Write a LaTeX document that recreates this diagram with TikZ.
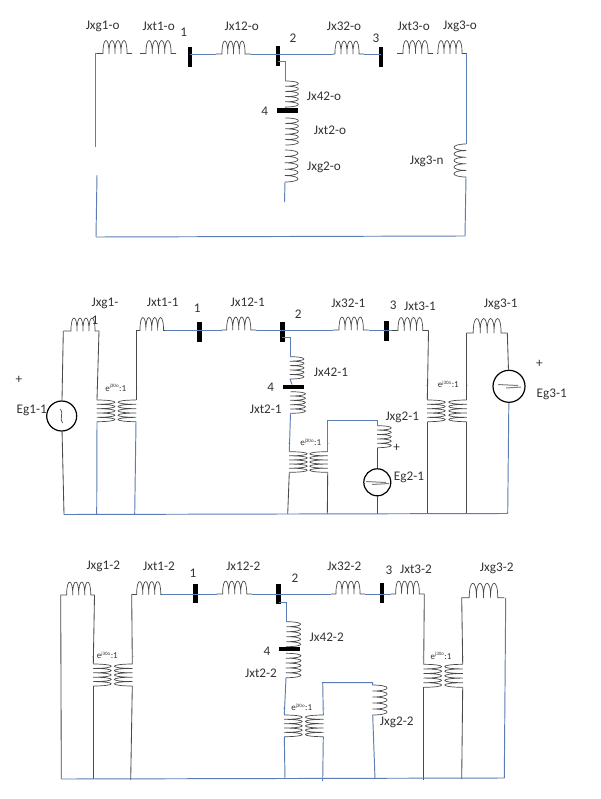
\documentclass[tikz,border=0pt]{standalone}
\usepackage{fontspec}
\setmainfont{Carlito}
\usetikzlibrary{calc}
\definecolor{wiredark}{HTML}{4A4A4A}
\definecolor{wireblue}{HTML}{5A7DB5}
\definecolor{inktext}{HTML}{333333}
\tikzset{
  coilst/.style={draw=wiredark,line width=0.7pt,line join=round},
  wire/.style={draw=wiredark,line width=0.85pt},
  bwire/.style={draw=wireblue,line width=0.95pt},
  busv/.style={fill=black,inner sep=0pt,minimum width=4.6pt,minimum height=19.5pt},
  bush/.style={fill=black,inner sep=0pt,minimum width=21pt,minimum height=4.6pt},
  lab/.style={text=inktext,font=\fontsize{13.2}{15}\selectfont,inner sep=0pt},
  tiny/.style={text=inktext,font=\fontsize{9}{10}\selectfont,inner sep=0pt},
  gen/.style={circle,draw=black,line width=1.2pt,fill=white,inner sep=0pt},
}
\newcommand\coilH[7][13]{%
  \pgfmathsetmacro\cw{(#5-#4)/4}%
  \coordinate (#2-a) at (#3,#7);\coordinate (#2-b) at (#6,#7);%
  \draw[coilst] (#2-a) -- (#4,#7)
    \foreach \i in {0,1,2,3}{ .. controls ({#4+(\i-0.05)*\cw},{#7-#1*1.33}) and ({#4+(\i+1.05)*\cw},{#7-#1*1.33}) .. ({#4+(\i+1)*\cw},#7)}
    -- (#2-b);}
\newcommand\coilV[5]{%
  \pgfmathsetmacro\cw{(#4-#3)/5}%
  \coordinate (#1-a) at (#2,#3);\coordinate (#1-b) at (#2,#4);%
  \draw[coilst] (#1-a)
    \foreach \i in {0,1,2,3,4}{ .. controls ({#2+(#5)*1.33},{#3+(\i+0.02)*\cw}) and ({#2+(#5)*1.33},{#3+(\i+0.98)*\cw}) .. (#2,{#3+(\i+1)*\cw})};}
% transformer: name, xl, xr, ytop, ybot, label x, label y
\newcommand\xfmr[7]{%
  \coilV{#1-p}{#2}{#4}{#5}{18}%
  \coilV{#1-s}{#3}{#4}{#5}{-18}%
  \node[tiny] (#1-l) at (#6,#7) {e\textsuperscript{\fontsize{5}{5}\selectfont j30o}:1};
  \fill[gray] (#2-1,#7+1) circle (0.4);
  \fill[gray] (#3+1,#7+1) circle (0.4);}
\newcommand\lab[4]{\node[lab] (#1) at (#2,#3) {#4};}
\begin{document}
\begin{tikzpicture}[x=1pt,y=-1pt]
\useasboundingbox (0,0) rectangle (601,799);
\fill[white] (0,0) rectangle (601,799);

%% ---------- top network ----------
\coilH{tg1}{97}{103}{127}{132}{53.5}
\coilH{tt1}{140}{146}{171}{176}{53.5}
\coilH{tx12}{216}{222}{245}{251}{54}
\coilH{tx32}{333}{335}{359}{364}{54}
\coilH{tt3}{397}{403}{428}{433}{53.5}
\coilH{tg3}{437}{438}{462}{466}{53.5}
\node[busv] (tb1) at (190,57) {};
\node[busv] (tb2) at (278,56) {};
\node[busv] (tb3) at (381,57) {};
\draw[bwire] (tb1 |- tx12-a) -- (tx12-a);
\draw[bwire] (tx12-b) -- (tb2 |- tx12-b);
\draw[bwire] (tb2 |- tx32-a) -- (tx32-a);
\draw[bwire] (tx32-b) -- (tb3 |- tx32-b);
\coordinate (ts2) at (285.5,61.5);
\coilV{tx42}{285.5}{81}{107}{13}
\coilV{tt2}{285.5}{118}{145}{13}
\coilV{txg2}{285}{150}{182}{13}
\node[bush] (tb4) at (287.5,110.5) {};
\draw[bwire] (tb2.center |- ts2) -- (ts2) -- (tx42-a);
\draw[bwire] (tx42-b) -- (tb4);
\coordinate (tend2) at (284.5,202);
\draw[bwire] (txg2-b) -- (tend2);
\coilV{tgn}{466}{144}{177}{-12}
\coordinate (tl1) at (95,147);
\coordinate (tl2) at (97,175);
\coordinate (tbl) at (96,237);
\coordinate (tbr) at (465,236);
\coordinate (tcl) at (95,53.5);
\draw[bwire] (tg1-a) -- (tcl) -- (tl1);
\draw[bwire] (tl2) -- (tbl);
\draw[bwire] (tbl) -- (tbr);
\draw[bwire] (tg3-b) -- (tgn-a);
\draw[bwire] (tgn-b) -- (tbr);
\lab{ta1}{102.7}{26}{Jxg1-o}
\lab{ta2}{158.7}{26}{Jxt1-o}
\lab{ta3}{183.7}{32}{1}
\lab{ta4}{241.7}{26}{Jx12-o}
\lab{ta5}{293}{38}{2}
\lab{ta6}{344}{26}{Jx32-o}
\lab{ta7}{376}{38}{3}
\lab{ta8}{413.7}{26}{Jxt3-o}
\lab{ta9}{460}{26}{Jxg3-o}
\lab{ta10}{324}{96}{Jx42-o}
\lab{ta11}{264.7}{111}{4}
\lab{ta12}{330}{130}{Jxt2-o}
\lab{ta13}{324}{167}{Jxg2-o}
\lab{ta14}{426.7}{161}{Jxg3-n}

%% ---------- middle network ----------
\coilH{mg1}{63.3}{71}{95}{99}{331}
\coilH{mt1}{136}{140}{163.5}{165}{330.5}
\coilH{mx12}{221.7}{226.7}{250.7}{256}{330}
\coilH{mx32}{333}{339}{363.3}{368.7}{330}
\coilH{mt3}{391.7}{398}{422.7}{428.5}{330.5}
\coilH[14.5]{mg3}{466.7}{473.3}{501}{507.3}{333}
\node[busv] (mb1) at (199.3,332) {};
\node[busv] (mb2) at (282.3,332) {};
\node[busv] (mb3) at (386.3,331) {};
\draw[bwire] (mt1-b) -- (mb1 |- mt1-b);
\draw[bwire] (mb1 |- mx12-a) -- (mx12-a);
\draw[bwire] (mx12-b) -- (mb2 |- mx12-b);
\draw[bwire] (mb2 |- mx32-a) -- (mx32-a);
\draw[bwire] (mx32-b) -- (mb3 |- mx32-b);
\draw[bwire] (mb3 |- mt3-a) -- (mt3-a);
\node[gen,minimum size=30pt] (mE1) at (61.7,416) {};
\node[gen,minimum size=32pt] (mE3) at (509,386.3) {};
\node[gen,minimum size=27pt] (mE2) at (377.3,482.3) {};
\draw[wiredark,line width=0.7pt] (60.5,409) .. controls (64,413) and (59,419) .. (62.5,423);
\draw[gray,line width=1pt] (498,384.5) -- (518,385.5) (506,388) -- (521,387);
\draw[gray,line width=1pt] (366,481.5) -- (386,482.5) (372,484.5) -- (389,483.5);
\xfmr{mT1}{97}{136}{400}{421.7}{115.7}{387.7}
\xfmr{mT2}{289.3}{327.7}{451.7}{472.3}{310.7}{442.3}
\xfmr{mT3}{427.3}{466.7}{400}{421.7}{448.3}{384.3}
\coordinate (mbl) at (64,514.5);
\coordinate (mbr) at (507.7,513.5);
\draw[wire] (mg1-a) -- (mE1);
\draw[wire] (mE1) -- (mbl);
\draw[wire] (mg1-b) -- (mT1-p-a);
\draw[wire] (mt1-a) -- (mT1-s-a);
\draw[wire] (mt3-b) -- (mT3-p-a);
\draw[wire] (mg3-a) -- (mT3-s-a);
\draw[wire] (mg3-b) -- (mE3);
\draw[bwire] (mE3) -- (mbr);
\coordinate (ms2) at (290,337.7);
\coilV{mx42}{290}{356.7}{379}{14}
\coilV{mt2}{290.5}{391.7}{413.3}{15}
\node[bush] (mb4) at (293,387) {};
\draw[bwire] (mb2.center |- ms2) -- (ms2) -- (mx42-a);
\draw[bwire] (mx42-b) -- (mb4);
\draw[bwire] (mt2-b) -- (mT2-p-a);
\coordinate (mc2) at (327.7,420);
\coordinate (mc3) at (377.3,420);
\coilV{mg2}{377.3}{425.7}{447.7}{14}
\draw[bwire] (mT2-s-a) -- (mc2) -- (mc3) -- (mg2-a);
\draw[wire] (mg2-b) -- (mE2);
\coordinate (mb5) at (96.7,514.3);
\coordinate (mb6) at (134.7,514.3);
\coordinate (mb7) at (287.7,514);
\coordinate (mb8) at (327.3,514);
\coordinate (mb9) at (377.3,514);
\coordinate (mb10) at (427.3,514);
\coordinate (mb11) at (466.7,514);
\draw[bwire] (mT1-p-b) -- (mb5);
\draw[bwire] (mT1-s-b) -- (mb6);
\draw[wire] (mT2-p-b) -- (mb7);
\draw[wire] (mT2-s-b) -- (mb8);
\draw[wire] (mE2) -- (mb9);
\draw[wire] (mT3-p-b) -- (mb10);
\draw[wire] (mT3-s-b) -- (mb11);
\draw[bwire] (mbl) -- (mbr);
\lab{ma1}{105}{303}{Jxg1-}
\lab{ma2}{95}{320}{1}
\lab{ma3}{162.7}{302.7}{Jxt1-1}
\lab{ma4}{197.3}{308}{1}
\lab{ma5}{247.7}{302.7}{Jx12-1}
\lab{ma6}{298.3}{314}{2}
\lab{ma7}{348.3}{303}{Jx32-1}
\lab{ma8}{393.3}{305}{3}
\lab{ma9}{420}{306}{Jxt3-1}
\lab{ma10}{500.7}{304}{Jxg3-1}
\lab{ma11}{19}{380}{+}
\lab{ma12}{31.7}{410}{Eg1-1}
\lab{ma13}{270.7}{387}{4}
\lab{ma14}{265.7}{409}{Jxt2-1}
\lab{ma15}{331}{372.7}{Jx42-1}
\lab{ma16}{402.3}{417.3}{Jxg2-1}
\lab{ma17}{396.7}{447.7}{+}
\lab{ma18}{409}{477.7}{Eg2-1}
\lab{ma19}{539.3}{364.3}{+}
\lab{ma20}{551.7}{394}{Eg3-1}

%% ---------- bottom network ----------
\coilH{bg1}{60.7}{66.7}{90.7}{94.5}{595}
\coilH{bt1}{131.7}{136.7}{160.7}{162}{594.5}
\coilH{bx12}{216.7}{222.7}{246.7}{252}{594}
\coilH{bx32}{331}{336}{360}{365}{594}
\coilH{bt3}{391}{395.7}{419.3}{424.3}{594}
\coilH[14.5]{bg3}{461.7}{469.3}{497.7}{504.3}{597.7}
\node[busv] (bb1) at (195.7,593.7) {};
\node[busv] (bb2) at (278.7,594) {};
\node[busv] (bb3) at (382,592.8) {};
\draw[bwire] (bt1-b) -- (bb1 |- bt1-b);
\draw[bwire] (bb1 |- bx12-a) -- (bx12-a);
\draw[bwire] (bx12-b) -- (bb2 |- bx12-b);
\draw[bwire] (bb2 |- bx32-a) -- (bx32-a);
\draw[bwire] (bx32-b) -- (bb3 |- bx32-b);
\draw[bwire] (bb3 |- bt3-a) -- (bt3-a);
\xfmr{bT1}{93.3}{132.3}{664}{686}{107.3}{655.3}
\xfmr{bT2}{284.3}{323.3}{715}{736.7}{301.7}{707.3}
\xfmr{bT3}{423.7}{462.7}{664.3}{687.3}{441}{656}
\coordinate (bbl) at (61.3,779);
\coordinate (bbr) at (504.3,778);
\draw[wire] (bg1-a) -- (bbl);
\draw[wire] (bg1-b) -- (bT1-p-a);
\draw[wire] (bt1-a) -- (bT1-s-a);
\draw[wire] (bt3-b) -- (bT3-p-a);
\draw[wire] (bg3-a) -- (bT3-s-a);
\coordinate (bcr) at (505.7,598);
\draw[bwire] (bcr) -- (bbr);
\coordinate (bs2) at (286.7,602.3);
\coilV{bx42}{286.7}{621.7}{646.7}{14}
\coilV{bt2}{286}{653.3}{677.7}{15}
\node[bush] (bb4) at (289.5,649) {};
\draw[bwire] (bb2.center |- bs2) -- (bs2) -- (bx42-a);
\draw[wire] (bx42-b) -- (bb4);
\draw[bwire] (bt2-b) -- (bT2-p-a);
\coordinate (bc2) at (322.7,682.7);
\coordinate (bc3) at (372.7,682.7);
\coilV{bg2}{372.7}{685}{715}{14.5}
\draw[bwire] (bT2-s-a) -- (bc2) -- (bc3) -- (bg2-a);
\coordinate (bb5) at (93.3,779);
\coordinate (bb6) at (130.7,780);
\coordinate (bb7) at (285,779);
\coordinate (bb8) at (322.7,781);
\coordinate (bb9) at (375,779);
\coordinate (bb10) at (423.7,780);
\coordinate (bb11) at (461.7,779);
\draw[wire] (bT1-p-b) -- (bb5);
\draw[wire] (bT1-s-b) -- (bb6);
\draw[bwire] (bT2-p-b) -- (bb7);
\draw[bwire] (bT2-s-b) -- (bb8);
\draw[bwire] (bg2-b) -- (bb9);
\draw[wire] (bT3-p-b) -- (bb10);
\draw[wire] (bT3-s-b) -- (bb11);
\draw[bwire] (bbl) -- (bbr);
\lab{ba1}{103.3}{566.7}{Jxg1-2}
\lab{ba2}{159}{566.7}{Jxt1-2}
\lab{ba3}{193}{573}{1}
\lab{ba4}{243.3}{566}{Jx12-2}
\lab{ba5}{295}{578}{2}
\lab{ba6}{344.3}{566.7}{Jx32-2}
\lab{ba7}{389}{570}{3}
\lab{ba8}{416}{569}{Jxt3-2}
\lab{ba9}{496.7}{568.7}{Jxg3-2}
\lab{ba10}{326.7}{637}{Jx42-2}
\lab{ba11}{267}{651}{4}
\lab{ba12}{261}{673}{Jxt2-2}
\lab{ba13}{396.7}{722.5}{Jxg2-2}
\end{tikzpicture}
\end{document}
